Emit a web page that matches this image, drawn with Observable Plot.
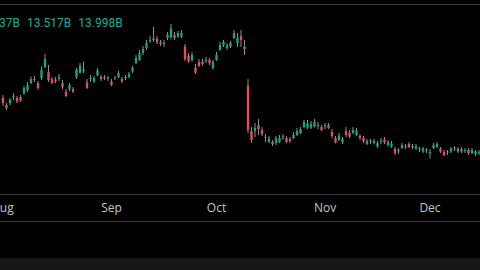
<!DOCTYPE html>
<html>
<head>
<meta charset="utf-8">
<script src="https://cdn.jsdelivr.net/npm/d3@7"></script>
<script src="https://cdn.jsdelivr.net/npm/@observablehq/plot@0.6"></script>
<style>
  html, body { margin: 0; padding: 0; background: #000; }
  #wrap { position: relative; width: 480px; height: 270px; overflow: hidden; background: #000; }
  .hline { position: absolute; left: 0; width: 480px; height: 1px; background: #3c3c3c; }
  #header { position: absolute; left: -1px; top: 16px; line-height: 12px; font: 12px Roboto, sans-serif; color: #22ab94; white-space: nowrap; }
  #header span + span { margin-left: 7px; }
  #strip { position: absolute; left: 0; top: 258px; width: 480px; height: 12px; background: #161616; }
  #chart { position: absolute; left: 0; top: 0; }
</style>
</head>
<body>
<div id="wrap">
  <div class="hline" style="top:4px"></div>
  <div id="chart"></div>
  <div id="header"></div>
  <div class="hline" style="top:194px"></div>
  <div class="hline" style="top:221px"></div>
  <div id="strip"></div>
</div>
<script>
const startDay = "2023-08-01";
const open = [202,195,197,203,202,203,207,210,217,220,217,222,233,228,221,220.5,221,217,208,211,211,223,227.5,229,217.5,221,218.5,225,223,222,221.5,218.5,221.5,223,221,223,223,228.5,237,240,247,252,259,260,261,257.5,257,262,263,265,263.5,263.5,253.5,244,240,232.5,238,238.5,239,240,232,240,250,255,252,253.5,262,257,264,253.5,214,169,169,175,170,162,158,158,157,158,162.5,162,161,162,165,167,173,172.5,172.5,173.5,175,173,173.5,172,168,162,160,157.5,169,167,167,165,164,162,156,158.5,157,153.5,158.5,160.5,155,153.5,151,149,152,153,156,153,151.5,150.5,148.5,149.5,147,152,153,151.5,148,147.5,148.5,151,151,148.5,149,150,147,146,147];
const high = [205,197,202,207,204,205,214,218,223.5,224,219,233.5,246,235,223,223,226,220,211,217,213,232,237,238.5,221,225,224,232,225,225,224,221,224,229,223,225,228,234,245,250,254,260,264,273,264,260,260,268,276,268,269,270,256,247,248,236,241,241,243,242,240,248,258,260,257,259,270,267,270,260,221,173,177,181,173,166,164,160,164,165,166,164,163,168,172,173,180,180,179,181,178,175,177,177,171,164,167,163,173,170,173,172,166,164,161,161,161,159,162,163,160,159,153,152,157,156,158,156,156,153,153,152,151,157,158,153,150,150,153,154,153,153,152,152,152,150,150];
const low = [194,190,195,200,197,198,205,208,216,218,210,220,232,218,216,217,219,211,203,209,207,221,226,227,211,218,217,224,219,220,219,214,220,222,217,220,222,227,236,239,245,250,257,258,256,254,253,260,260.5,260,262,262,239,237,238,226,233,234.5,237,235,230.5,239,249,253,250,252,261,253,253,245,167,157,163,165,164,158,157,154,155,157,160,157,157,161,164,166,172,171,171,172.5,171,169,171,171,161.5,156.5,159,156,163,162,166,164,160,157,155,156,155.5,152,156,156,153.5,152,145,146,151,151,152,151,150,148,147,147,141.5,151,152,147,144,145,147,149,147,147,147,145,146,144,145];
const close = [197,192,200,204,198.5,199.5,212,215,221,221,212,230,241,220,217,219,222.5,213,204,215,208.5,230,234,230.5,212,222,222,229.5,221,222.5,222,215,222,227,218.5,222,226,232,242,247,251,257,260,261.5,258,256,256,265,271.5,262,267,267,241,238.5,245,227.5,234,236,240,237,238,245,255,258,254.5,257,267,262,260,251,170,160,172,171,166,163,161.5,156,161.5,162,163,158,159,165,169,171,178,176.5,176,178,174,170,174,175,164,157.5,164.5,161,165,163.5,170,169.5,162,158.5,159,159,159,157,159,157.5,158,156.5,147,149.5,155,153.5,153,153.5,154,151,151.5,150,148,155,156,148.5,145,148,151.5,151.5,148.5,151,149.5,147,150,148.5,147.5];

const monthTicks = ["2023-08-01", "2023-09-01", "2023-10-01", "2023-11-01", "2023-12-01"];
const monthLabels = ["Aug", "Sep", "Oct", "Nov", "Dec"];
const headerValues = ["37B", "13.517B", "13.998B"];

const GREEN = "#1fa083";
const RED = "#d9545a";
const WICK = "#8c8f96";

const day = 864e5;
const t0 = new Date(startDay).getTime();
const pxPerDay = 3.5;
const xDomain = [new Date(t0 - 2.5 / pxPerDay * day), new Date(t0 + (480 - 2.5) / pxPerDay * day)];

const data = open.map((o, i) => ({
  date: d3.utcDay.offset(new Date(startDay), i),
  open: o, high: high[i], low: low[i], close: close[i]
}));

const tickDates = monthTicks.map(d => new Date(d));
const labelOf = new Map(tickDates.map((d, i) => [d.getTime(), monthLabels[i]]));

const chart = Plot.plot({
  width: 480,
  height: 221,
  marginTop: 0,
  marginBottom: 27,
  marginLeft: 0,
  marginRight: 0,
  style: { background: "transparent", color: "#c4c4c4", fontFamily: "'Open Sans', sans-serif", fontSize: "12px", overflow: "visible" },
  x: { type: "utc", domain: xDomain, ticks: tickDates, tickFormat: d => labelOf.get(d.getTime()), tickSize: 0, tickPadding: 9, label: null },
  y: { domain: [106, 300], range: [194, 0], axis: null },
  marks: [
    Plot.ruleX(data, { x: "date", y1: "low", y2: "high", stroke: WICK, strokeWidth: 1 }),
    Plot.ruleX(data, {
      x: "date",
      y1: "open",
      y2: d => Math.abs(d.close - d.open) < 1 ? d.open + (d.close >= d.open ? 1 : -1) : d.close,
      stroke: d => d.close >= d.open ? GREEN : RED,
      strokeWidth: 2.4
    })
  ]
});
document.getElementById("chart").appendChild(chart);

const header = document.getElementById("header");
headerValues.forEach(t => {
  const s = document.createElement("span");
  s.textContent = t;
  header.appendChild(s);
});
</script>
</body>
</html>
